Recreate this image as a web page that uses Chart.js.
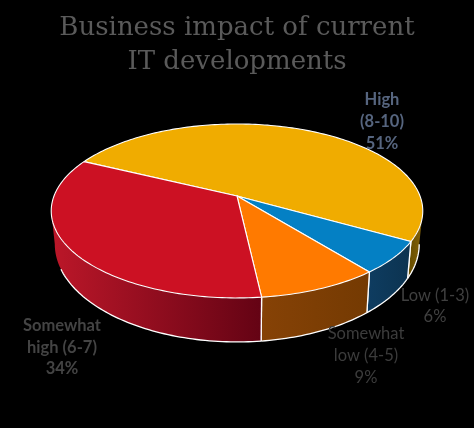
<!DOCTYPE html>
<html>
<head>
<meta charset="utf-8">
<title>Business impact of current IT developments</title>
<script src="https://cdn.jsdelivr.net/npm/chart.js@4"></script>
<style>
  html, body { margin: 0; padding: 0; background: #000; }
  canvas { display: block; }
</style>
</head>
<body>
<canvas id="pie" width="474" height="428"></canvas>
<script>
// values
const categories = ['High (8-10)', 'Low (1-3)', 'Somewhat low (4-5)', 'Somewhat high (6-7)'];
const shares = [51, 6, 9, 34];
const titleLines = ['Business impact of current', 'IT developments'];

const topColors = ['#f0ac00', '#0480c4', '#ff7a00', '#cc1123'];
// side wall shades, in the direction the slice runs
const wallColors = [
    ['#86640a', '#6b5000'],
    ['#0c3350', '#0e3c60'],
    ['#743a02', '#864206'],
    ['#640314', '#bc1729']
];

const slices = [
    { lines: ['High', '(8-10)', '51%'], x: 382, y: 100, gap: 22, font: 'bold 16.5px Lato', color: '#56657f' },
    { lines: ['Low (1-3)', '6%'], x: 435, y: 296, gap: 21, font: '16.5px Lato', color: '#404040' },
    { lines: ['Somewhat', 'low (4-5)', '9%'], x: 366, y: 334, gap: 22, font: '16.5px Lato', color: '#3c3c3c' },
    { lines: ['Somewhat', 'high (6-7)', '34%'], x: 62, y: 326, gap: 21.5, font: 'bold 16.5px Lato', color: '#444444' }
];

// the pie is seen in perspective: the apex is not the middle of the ellipse
const pieX = 237, pieY = 196;
const topDisc = { a: 183, b: 84.4, dy: 0 };
const bottomDisc = { a: 179.5, b: 95, dy: 31.2 };
const tilt = -0.172;

// part of the rim that faces the viewer
const wallFrom = 370 * Math.PI / 180, wallTo = 530 * Math.PI / 180;

function project(disc, angle) {
    const u = Math.cos(angle), v = Math.sin(angle), w = 1 + tilt * v;
    return { x: pieX + disc.a * u / w, y: pieY + disc.dy + disc.b * v / w };
}

function rimPath(ctx, disc, a, b, moveFirst) {
    const n = Math.max(2, Math.ceil(Math.abs(b - a) / 0.02));
    for (let i = 0; i <= n; i++) {
        const p = project(disc, a + (b - a) * i / n);
        if (i === 0 && moveFirst) ctx.moveTo(p.x, p.y);
        else ctx.lineTo(p.x, p.y);
    }
}

function drawWall(ctx, arc, i) {
    const a = Math.max(arc.startAngle, wallFrom), b = Math.min(arc.endAngle, wallTo);
    if (a >= b) return;
    const pa = project(topDisc, a), pb = project(topDisc, b);
    const grad = ctx.createLinearGradient(pa.x, 0, pb.x, 0);
    grad.addColorStop(0, wallColors[i][0]);
    grad.addColorStop(1, wallColors[i][1]);

    ctx.beginPath();
    rimPath(ctx, topDisc, a, b, true);
    rimPath(ctx, bottomDisc, b, a, false);
    ctx.closePath();
    ctx.fillStyle = grad;
    ctx.fill();

    ctx.strokeStyle = '#fff';
    ctx.lineWidth = 1.3;
    ctx.beginPath();
    rimPath(ctx, bottomDisc, a, Math.min(b, wallTo - 0.25), true);
    ctx.stroke();

    // vertical edges between slices
    ctx.beginPath();
    [arc.startAngle, arc.endAngle].forEach(t => {
        if (t > wallFrom && t < wallTo) {
            const p = project(topDisc, t), q = project(bottomDisc, t);
            ctx.moveTo(p.x, p.y);
            ctx.lineTo(q.x, q.y);
        }
    });
    ctx.stroke();
}

function drawTop(ctx, arc, i) {
    ctx.beginPath();
    ctx.moveTo(pieX, pieY);
    rimPath(ctx, topDisc, arc.startAngle, arc.endAngle, false);
    ctx.closePath();
    ctx.fillStyle = topColors[i];
    ctx.fill();
    ctx.strokeStyle = '#fff';
    ctx.lineWidth = 1.1;
    ctx.lineJoin = 'round';
    ctx.stroke();
}

const perspectivePie = {
    id: 'perspectivePie',
    beforeDatasetsDraw(chart) {
        const ctx = chart.ctx;
        const arcs = chart.getDatasetMeta(0).data;
        ctx.save();
        arcs.forEach((arc, i) => drawWall(ctx, arc, i));
        arcs.forEach((arc, i) => drawTop(ctx, arc, i));

        ctx.textAlign = 'center';
        ctx.textBaseline = 'middle';
        slices.forEach(s => {
            ctx.font = s.font;
            ctx.fillStyle = s.color;
            s.lines.forEach((line, k) => ctx.fillText(line, s.x, s.y + k * s.gap));
        });
        ctx.restore();
        return false; // the slices are drawn above, not flat by Chart.js
    }
};

new Chart(document.getElementById('pie'), {
    type: 'pie',
    data: {
        labels: categories,
        datasets: [{ data: shares, backgroundColor: topColors, borderColor: '#fff', borderWidth: 1 }]
    },
    options: {
        responsive: false,
        animation: false,
        rotation: 296,
        layout: { padding: 0 },
        plugins: {
            legend: { display: false },
            tooltip: { enabled: false },
            title: {
                display: true,
                text: titleLines,
                color: '#5a5a5a',
                font: { family: '"DejaVu Serif"', size: 26, weight: 'normal', lineHeight: 1.31 },
                padding: { top: 11, bottom: 8 }
            }
        }
    },
    plugins: [perspectivePie]
});
</script>
</body>
</html>
